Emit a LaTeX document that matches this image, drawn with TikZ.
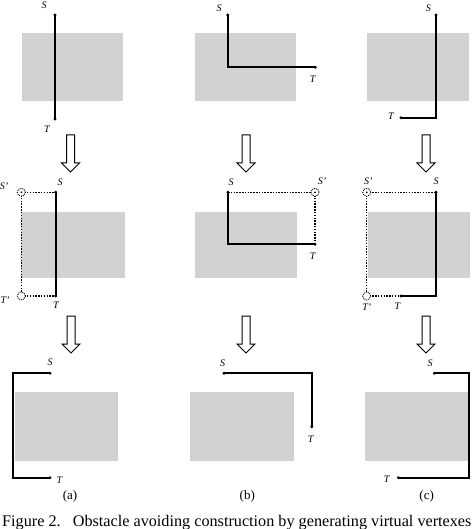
\documentclass[tikz,border=0pt]{standalone}
\usepackage{fontspec}
\setmainfont{Liberation Serif}
\definecolor{obgray}{RGB}{210,210,210}
\tikzset{
  obst/.style={fill=obgray, draw=none},
  route/.style={line width=1.7pt, line join=miter},
  virt/.style={line width=1.5pt, dash pattern=on 1.5pt off 1.3pt},
  lbl/.style={font=\fontsize{10}{11}\selectfont\itshape, inner sep=0pt},
  sub/.style={font=\fontsize{13}{15}\selectfont, inner sep=0pt},
  enddot/.style={circle, fill=black, inner sep=0pt, minimum size=3.2pt},
  vcirc/.style={circle, draw, line width=0.9pt, dash pattern=on 1pt off 1pt, fill=white, inner sep=0pt, minimum size=8pt},
  vdot/.style={circle, fill=black, inner sep=0pt, minimum size=2pt},
  bigarrow/.pic={\draw[line width=1pt, fill=white, line join=miter]
     (-4,0) -- (4,0) -- (4,28) -- (9,28) -- (0,37) -- (-9,28) -- (-4,28) -- cycle;}
}
\begin{document}
\begin{tikzpicture}[x=1pt,y=-1pt]
\useasboundingbox (0,0) rectangle (474,529);

% ---------------- Row 1 ----------------
\fill[obst] (22,33) rectangle (123,101);
\fill[obst] (194.7,33) rectangle (296,101);
\fill[obst] (367.3,33) rectangle (469.3,101);

\node[enddot] (aS1) at (55,15) {};
\node[enddot] (aT1) at (55,119) {};
\draw[route] (aS1.center) -- (aT1.center);
\node[lbl] (laS1) at (44,5) {S};
\node[lbl] (laT1) at (47,129) {T};

\node[enddot] (bS1) at (227.7,15) {};
\node[enddot] (bT1) at (315.3,67.3) {};
\draw[route] (bS1.center) |- (bT1.center);
\node[lbl] (lbS1) at (219,8) {S};
\node[lbl] (lbT1) at (312.7,79) {T};

\node[enddot] (cS1) at (436,15) {};
\node[enddot] (cT1) at (401,117.7) {};
\draw[route] (cS1.center) |- (cT1.center);
\node[lbl] (lcS1) at (428.3,8) {S};
\node[lbl] (lcT1) at (391,116.7) {T};

\pic at (70.5,135) {bigarrow};
\pic at (246,135) {bigarrow};
\pic at (426,135) {bigarrow};

% ---------------- Row 2 ----------------
\fill[obst] (20.7,211.7) rectangle (124.7,278);
\fill[obst] (194.7,211.7) rectangle (297.3,278);
\fill[obst] (367.7,211.7) rectangle (470,278);

% (a)
\coordinate (aS2) at (55.7,192.3);
\coordinate (aT2) at (55.7,296);
\coordinate (aSv) at (21.3,192.3);
\coordinate (aTv) at (21.3,296);
\draw[virt] (aSv) -- (aS2);
\draw[virt] (aTv) -- (aT2);
\draw[virt] (aSv) -- (aTv);
\draw[route] (aS2) -- (aT2);
\node[enddot] (aS2d) at (aS2) {};
\node[enddot] (aT2d) at (aT2) {};
\node[vcirc] (aSvc) at (aSv) {};
\node[vcirc] (aTvc) at (aTv) {};
\node[vdot] (aSvd) at (aSv) {};
\node[lbl] (laS2) at (60,182.7) {S};
\node[lbl] (laT2) at (56,305.7) {T};
\node[lbl] (laSv) at (4,186) {S'};
\node[lbl] (laTv) at (5,300) {T'};

% (b)
\coordinate (bS2) at (228,192.3);
\coordinate (bT2) at (315,244.3);
\coordinate (bSv) at (315,192.3);
\draw[virt] (bS2) -- (bSv);
\draw[virt] (bSv) -- (bT2);
\draw[route] (bS2) |- (bT2);
\node[enddot] (bS2d) at (bS2) {};
\node[enddot] (bT2d) at (bT2) {};
\node[vcirc] (bSvc) at (bSv) {};
\node[vdot] (bSvd) at (bSv) {};
\node[lbl] (lbS2) at (231,182.7) {S};
\node[lbl] (lbSv) at (322,181) {S'};
\node[lbl] (lbT2) at (312.7,256.7) {T};

% (c)
\coordinate (cS2) at (436,192.3);
\coordinate (cT2) at (401,296);
\coordinate (cSv) at (366.7,192.3);
\coordinate (cTv) at (366.7,296);
\draw[virt] (cSv) -- (cS2);
\draw[virt] (cTv) -- (cT2);
\draw[virt] (cSv) -- (cTv);
\draw[route] (cS2) |- (cT2);
\node[enddot] (cS2d) at (cS2) {};
\node[enddot] (cT2d) at (cT2) {};
\node[vcirc] (cSvc) at (cSv) {};
\node[vcirc] (cTvc) at (cTv) {};
\node[vdot] (cSvd) at (cSv) {};
\node[lbl] (lcSv) at (368.3,181.7) {S'};
\node[lbl] (lcS2) at (436,181.7) {S};
\node[lbl] (lcTv) at (366.7,306.7) {T'};
\node[lbl] (lcT2) at (397.3,306.7) {T};

\pic at (71,316) {bigarrow};
\pic at (246,316) {bigarrow};
\pic at (426,316) {bigarrow};

% ---------------- Row 3 ----------------
\fill[obst] (15,391.7) rectangle (118.3,460.7);
\fill[obst] (190,391.7) rectangle (294,460.7);
\fill[obst] (365.3,391.7) rectangle (468.3,460.7);

% (a)
\node[enddot] (aS3) at (50,373.3) {};
\node[enddot] (aT3) at (50,477.7) {};
\coordinate (aK1) at (13.3,373.3);
\coordinate (aK2) at (13.3,477.7);
\draw[route] (aS3.center) -- (aK1) -- (aK2) -- (aT3.center);
\node[lbl] (laS3) at (50,362.7) {S};
\node[lbl] (laT3) at (59.3,480.7) {T};
\node[sub] (capa) at (70,496.7) {(a)};

% (b)
\node[enddot] (bS3) at (224,373.3) {};
\node[enddot] (bT3) at (311.7,426.7) {};
\draw[route] (bS3.center) -| (bT3.center);
\node[lbl] (lbS3) at (222.7,363.3) {S};
\node[lbl] (lbT3) at (310.7,439.3) {T};
\node[sub] (capb) at (247.3,496.7) {(b)};

% (c)
\node[enddot] (cS3) at (434.3,373.3) {};
\node[enddot] (cT3) at (398.3,477.7) {};
\coordinate (cK1) at (468.7,373.3);
\coordinate (cK2) at (468.7,477.7);
\draw[route] (cS3.center) -- (cK1) -- (cK2) -- (cT3.center);
\node[lbl] (lcS3) at (430,363.3) {S};
\node[lbl] (lcT3) at (386.7,479.3) {T};
\node[sub] (capc) at (426.7,496.7) {(c)};

% caption
\node[anchor=base west, inner sep=0pt, font=\fontsize{16.2}{18}\selectfont] (caption) at (2,526)
  {Figure 2.\ \ \ Obstacle avoiding construction by generating virtual vertexes};
\end{tikzpicture}
\end{document}
